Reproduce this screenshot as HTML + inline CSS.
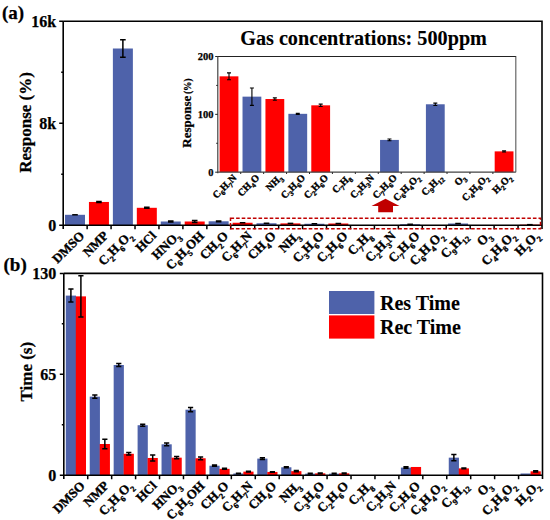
<!DOCTYPE html>
<html><head><meta charset="utf-8"><style>
html,body{margin:0;padding:0;background:#fff;}
svg{display:block;}
text{font-family:"Liberation Serif", serif;font-weight:bold;fill:#000;stroke:#000;stroke-width:0.25px;}
.lb{stroke:#000;stroke-width:0.35px;}
.big{stroke-width:0.1px;}
</style></head><body>
<svg width="550" height="520" viewBox="0 0 550 520">
<rect x="65.00" y="214.80" width="20" height="10.50" fill="#4E62AA"/>
<rect x="88.94" y="201.96" width="20" height="23.34" fill="#FF0000"/>
<rect x="112.88" y="48.50" width="20" height="176.80" fill="#4E62AA"/>
<rect x="136.82" y="207.80" width="20" height="17.50" fill="#FF0000"/>
<rect x="160.76" y="221.50" width="20" height="3.80" fill="#4E62AA"/>
<rect x="184.70" y="221.50" width="20" height="3.80" fill="#FF0000"/>
<rect x="208.64" y="221.29" width="20" height="4.01" fill="#4E62AA"/>
<rect x="232.58" y="222.75" width="20" height="2.55" fill="#FF0000"/>
<rect x="256.52" y="223.26" width="20" height="2.04" fill="#4E62AA"/>
<rect x="280.46" y="223.39" width="20" height="1.91" fill="#FF0000"/>
<rect x="304.40" y="223.77" width="20" height="1.53" fill="#4E62AA"/>
<rect x="328.34" y="223.51" width="20" height="1.79" fill="#FF0000"/>
<rect x="400.16" y="224.28" width="20" height="1.02" fill="#4E62AA"/>
<rect x="448.04" y="223.51" width="20" height="1.79" fill="#4E62AA"/>
<rect x="519.86" y="224.66" width="20" height="0.64" fill="#FF0000"/>
<path d="M72.20 214.80h5.6" stroke="#000" stroke-width="1.5" fill="none"/>
<path d="M98.94 201.45V202.47M96.14 201.45h5.6M96.14 202.47h5.6" stroke="#000" stroke-width="1.5" fill="none"/>
<path d="M122.88 39.65V57.35M120.08 39.65h5.6M120.08 57.35h5.6" stroke="#000" stroke-width="1.5" fill="none"/>
<path d="M146.82 207.29V208.31M144.02 207.29h5.6M144.02 208.31h5.6" stroke="#000" stroke-width="1.5" fill="none"/>
<path d="M170.76 220.99V222.01M167.96 220.99h5.6M167.96 222.01h5.6" stroke="#000" stroke-width="1.5" fill="none"/>
<path d="M194.70 220.61V222.39M191.90 220.61h5.6M191.90 222.39h5.6" stroke="#000" stroke-width="1.5" fill="none"/>
<path d="M218.64 220.91V221.68M215.84 220.91h5.6M215.84 221.68h5.6" stroke="#000" stroke-width="1.5" fill="none"/>
<path d="M239.78 222.75h5.6" stroke="#000" stroke-width="1.5" fill="none"/>
<path d="M263.72 223.26h5.6" stroke="#000" stroke-width="1.5" fill="none"/>
<path d="M287.66 223.39h5.6" stroke="#000" stroke-width="1.5" fill="none"/>
<path d="M311.60 223.77h5.6" stroke="#000" stroke-width="1.5" fill="none"/>
<path d="M335.54 223.51h5.6" stroke="#000" stroke-width="1.5" fill="none"/>
<path d="M407.36 224.28h5.6" stroke="#000" stroke-width="1.5" fill="none"/>
<path d="M455.24 223.51h5.6" stroke="#000" stroke-width="1.5" fill="none"/>
<path d="M527.06 224.66h5.6" stroke="#000" stroke-width="1.5" fill="none"/>
<path d="M63.2 21.2H542.0V229.10000000000002M63.2 21.2V229.10000000000002M62.45 225.3H542.0" stroke="#000" stroke-width="1.6" fill="none"/>
<path d="M87.14 225.3v4M111.08 225.3v4M135.02 225.3v4M158.96 225.3v4M182.90 225.3v4M206.84 225.3v4M230.78 225.3v4M254.72 225.3v4M278.66 225.3v4M302.60 225.3v4M326.54 225.3v4M350.48 225.3v4M374.42 225.3v4M398.36 225.3v4M422.30 225.3v4M446.24 225.3v4M470.18 225.3v4M494.12 225.3v4M518.06 225.3v4M63.2 225.30h-4M63.2 123.25h-4M63.2 21.20h-4M63.2 174.28h-2M63.2 72.22h-2" stroke="#000" stroke-width="1.5" fill="none"/>
<text x="56.2" y="230.90" font-size="16" text-anchor="end">0</text>
<text x="56.2" y="128.85" font-size="16" text-anchor="end">8k</text>
<text x="56.2" y="26.80" font-size="16" text-anchor="end">16k</text>
<text transform="translate(31.3 172.7) rotate(-90)" font-size="17">Response (%)</text>
<text x="2" y="18.7" font-size="19">(a)</text>
<text class="lb" transform="translate(85.17 236.50) rotate(-45)" font-size="13" text-anchor="end">DMSO</text>
<text class="lb" transform="translate(109.11 236.50) rotate(-45)" font-size="13" text-anchor="end">NMP</text>
<text class="lb" transform="translate(133.05 236.50) rotate(-45)" font-size="13" text-anchor="end">C<tspan font-size="8.2" dy="4">2</tspan><tspan dy="-4">H</tspan><tspan font-size="8.2" dy="4">6</tspan><tspan dy="-4">O</tspan><tspan font-size="8.2" dy="4">2</tspan></text>
<text class="lb" transform="translate(156.99 236.50) rotate(-45)" font-size="13" text-anchor="end">HCl</text>
<text class="lb" transform="translate(180.93 236.50) rotate(-45)" font-size="13" text-anchor="end">HNO<tspan font-size="8.2" dy="4">3</tspan></text>
<text class="lb" transform="translate(204.87 236.50) rotate(-45)" font-size="13" text-anchor="end">C<tspan font-size="8.2" dy="4">6</tspan><tspan dy="-4">H</tspan><tspan font-size="8.2" dy="4">5</tspan><tspan dy="-4">OH</tspan></text>
<text class="lb" transform="translate(228.81 236.50) rotate(-45)" font-size="13" text-anchor="end">CH<tspan font-size="8.2" dy="4">2</tspan><tspan dy="-4">O</tspan></text>
<text class="lb" transform="translate(252.75 236.50) rotate(-45)" font-size="13" text-anchor="end">C<tspan font-size="8.2" dy="4">6</tspan><tspan dy="-4">H</tspan><tspan font-size="8.2" dy="4">7</tspan><tspan dy="-4">N</tspan></text>
<text class="lb" transform="translate(276.69 236.50) rotate(-45)" font-size="13" text-anchor="end">CH<tspan font-size="8.2" dy="4">4</tspan><tspan dy="-4">O</tspan></text>
<text class="lb" transform="translate(300.63 236.50) rotate(-45)" font-size="13" text-anchor="end">NH<tspan font-size="8.2" dy="4">3</tspan></text>
<text class="lb" transform="translate(324.57 236.50) rotate(-45)" font-size="13" text-anchor="end">C<tspan font-size="8.2" dy="4">3</tspan><tspan dy="-4">H</tspan><tspan font-size="8.2" dy="4">6</tspan><tspan dy="-4">O</tspan></text>
<text class="lb" transform="translate(348.51 236.50) rotate(-45)" font-size="13" text-anchor="end">C<tspan font-size="8.2" dy="4">2</tspan><tspan dy="-4">H</tspan><tspan font-size="8.2" dy="4">6</tspan><tspan dy="-4">O</tspan></text>
<text class="lb" transform="translate(372.45 236.50) rotate(-45)" font-size="13" text-anchor="end">C<tspan font-size="8.2" dy="4">7</tspan><tspan dy="-4">H</tspan><tspan font-size="8.2" dy="4">8</tspan></text>
<text class="lb" transform="translate(396.39 236.50) rotate(-45)" font-size="13" text-anchor="end">C<tspan font-size="8.2" dy="4">2</tspan><tspan dy="-4">H</tspan><tspan font-size="8.2" dy="4">3</tspan><tspan dy="-4">N</tspan></text>
<text class="lb" transform="translate(420.33 236.50) rotate(-45)" font-size="13" text-anchor="end">C<tspan font-size="8.2" dy="4">7</tspan><tspan dy="-4">H</tspan><tspan font-size="8.2" dy="4">6</tspan><tspan dy="-4">O</tspan></text>
<text class="lb" transform="translate(444.27 236.50) rotate(-45)" font-size="13" text-anchor="end">C<tspan font-size="8.2" dy="4">6</tspan><tspan dy="-4">H</tspan><tspan font-size="8.2" dy="4">4</tspan><tspan dy="-4">O</tspan><tspan font-size="8.2" dy="4">2</tspan></text>
<text class="lb" transform="translate(468.21 236.50) rotate(-45)" font-size="13" text-anchor="end">C<tspan font-size="8.2" dy="4">9</tspan><tspan dy="-4">H</tspan><tspan font-size="8.2" dy="4">12</tspan></text>
<text class="lb" transform="translate(492.15 236.50) rotate(-45)" font-size="13" text-anchor="end">O<tspan font-size="8.2" dy="4">3</tspan></text>
<text class="lb" transform="translate(516.09 236.50) rotate(-45)" font-size="13" text-anchor="end">C<tspan font-size="8.2" dy="4">4</tspan><tspan dy="-4">H</tspan><tspan font-size="8.2" dy="4">8</tspan><tspan dy="-4">O</tspan><tspan font-size="8.2" dy="4">2</tspan></text>
<text class="lb" transform="translate(540.03 236.50) rotate(-45)" font-size="13" text-anchor="end">H<tspan font-size="8.2" dy="4">2</tspan><tspan dy="-4">O</tspan><tspan font-size="8.2" dy="4">2</tspan></text>
<rect x="230.5" y="218.2" width="310" height="10.6" fill="none" stroke="#C00000" stroke-width="1.5" stroke-dasharray="3.6 2"/>
<rect x="219.60" y="76.34" width="18.8" height="95.86" fill="#FF0000"/>
<rect x="242.52" y="96.65" width="18.8" height="75.55" fill="#4E62AA"/>
<rect x="265.45" y="99.02" width="18.8" height="73.18" fill="#FF0000"/>
<rect x="288.37" y="113.83" width="18.8" height="58.37" fill="#4E62AA"/>
<rect x="311.29" y="105.33" width="18.8" height="66.87" fill="#FF0000"/>
<rect x="380.06" y="139.92" width="18.8" height="32.28" fill="#4E62AA"/>
<rect x="425.91" y="104.28" width="18.8" height="67.92" fill="#4E62AA"/>
<rect x="494.68" y="151.37" width="18.8" height="20.83" fill="#FF0000"/>
<path d="M229.00 72.87V79.81M227.00 72.87h4M227.00 79.81h4" stroke="#000" stroke-width="1.1" fill="none"/>
<path d="M251.92 87.97V105.33M249.92 87.97h4M249.92 105.33h4" stroke="#000" stroke-width="1.1" fill="none"/>
<path d="M274.85 97.86V100.18M272.85 97.86h4M272.85 100.18h4" stroke="#000" stroke-width="1.1" fill="none"/>
<path d="M297.77 113.25V114.41M295.77 113.25h4M295.77 114.41h4" stroke="#000" stroke-width="1.1" fill="none"/>
<path d="M320.69 104.17V106.48M318.69 104.17h4M318.69 106.48h4" stroke="#000" stroke-width="1.1" fill="none"/>
<path d="M389.46 139.05V140.79M387.46 139.05h4M387.46 140.79h4" stroke="#000" stroke-width="1.1" fill="none"/>
<path d="M435.31 103.13V105.44M433.31 103.13h4M433.31 105.44h4" stroke="#000" stroke-width="1.1" fill="none"/>
<path d="M504.08 150.80V151.95M502.08 150.80h4M502.08 151.95h4" stroke="#000" stroke-width="1.1" fill="none"/>
<path d="M217.8 56.5H515.8V172.2" stroke="#666" stroke-width="1.2" fill="none"/>
<path d="M217.8 56.5H515.8" stroke="#222" stroke-width="1.2" fill="none"/>
<path d="M217.8 56.5V173.2M217.3 172.2H515.8" stroke="#444" stroke-width="1.2" fill="none"/>
<path d="M240.72 172.2v1.8M263.65 172.2v1.8M286.57 172.2v1.8M309.49 172.2v1.8M332.42 172.2v1.8M355.34 172.2v1.8M378.26 172.2v1.8M401.18 172.2v1.8M424.11 172.2v1.8M447.03 172.2v1.8M469.95 172.2v1.8M492.88 172.2v1.8M217.8 172.20h-2.6M217.8 114.35h-2.6M217.8 56.50h-2.6M217.8 143.27h-1.6M217.8 85.42h-1.6" stroke="#222" stroke-width="1" fill="none"/>
<text x="213.5" y="175.90" font-size="10.5" text-anchor="end">0</text>
<text x="213.5" y="118.05" font-size="10.5" text-anchor="end">100</text>
<text x="213.5" y="60.20" font-size="10.5" text-anchor="end">200</text>
<text transform="translate(191 147.7) rotate(-90)" font-size="13">Response <tspan font-size="9.5" dx="-1.6">(%)</tspan></text>
<text class="big" x="240.2" y="45" font-size="20.2">Gas concentrations: 500ppm</text>
<text class="lb" transform="translate(237.06 178.30) rotate(-45)" font-size="10" text-anchor="end">C<tspan font-size="7" dy="2.8">6</tspan><tspan dy="-2.8">H</tspan><tspan font-size="7" dy="2.8">7</tspan><tspan dy="-2.8">N</tspan></text>
<text class="lb" transform="translate(259.98 178.30) rotate(-45)" font-size="10" text-anchor="end">CH<tspan font-size="7" dy="2.8">4</tspan><tspan dy="-2.8">O</tspan></text>
<text class="lb" transform="translate(282.91 178.30) rotate(-45)" font-size="10" text-anchor="end">NH<tspan font-size="7" dy="2.8">3</tspan></text>
<text class="lb" transform="translate(305.83 178.30) rotate(-45)" font-size="10" text-anchor="end">C<tspan font-size="7" dy="2.8">3</tspan><tspan dy="-2.8">H</tspan><tspan font-size="7" dy="2.8">6</tspan><tspan dy="-2.8">O</tspan></text>
<text class="lb" transform="translate(328.75 178.30) rotate(-45)" font-size="10" text-anchor="end">C<tspan font-size="7" dy="2.8">2</tspan><tspan dy="-2.8">H</tspan><tspan font-size="7" dy="2.8">6</tspan><tspan dy="-2.8">O</tspan></text>
<text class="lb" transform="translate(351.68 178.30) rotate(-45)" font-size="10" text-anchor="end">C<tspan font-size="7" dy="2.8">7</tspan><tspan dy="-2.8">H</tspan><tspan font-size="7" dy="2.8">8</tspan></text>
<text class="lb" transform="translate(374.60 178.30) rotate(-45)" font-size="10" text-anchor="end">C<tspan font-size="7" dy="2.8">2</tspan><tspan dy="-2.8">H</tspan><tspan font-size="7" dy="2.8">3</tspan><tspan dy="-2.8">N</tspan></text>
<text class="lb" transform="translate(397.52 178.30) rotate(-45)" font-size="10" text-anchor="end">C<tspan font-size="7" dy="2.8">7</tspan><tspan dy="-2.8">H</tspan><tspan font-size="7" dy="2.8">6</tspan><tspan dy="-2.8">O</tspan></text>
<text class="lb" transform="translate(420.45 178.30) rotate(-45)" font-size="10" text-anchor="end">C<tspan font-size="7" dy="2.8">6</tspan><tspan dy="-2.8">H</tspan><tspan font-size="7" dy="2.8">4</tspan><tspan dy="-2.8">O</tspan><tspan font-size="7" dy="2.8">2</tspan></text>
<text class="lb" transform="translate(443.37 178.30) rotate(-45)" font-size="10" text-anchor="end">C<tspan font-size="7" dy="2.8">9</tspan><tspan dy="-2.8">H</tspan><tspan font-size="7" dy="2.8">12</tspan></text>
<text class="lb" transform="translate(466.29 178.30) rotate(-45)" font-size="10" text-anchor="end">O<tspan font-size="7" dy="2.8">3</tspan></text>
<text class="lb" transform="translate(489.22 178.30) rotate(-45)" font-size="10" text-anchor="end">C<tspan font-size="7" dy="2.8">4</tspan><tspan dy="-2.8">H</tspan><tspan font-size="7" dy="2.8">8</tspan><tspan dy="-2.8">O</tspan><tspan font-size="7" dy="2.8">2</tspan></text>
<text class="lb" transform="translate(512.14 178.30) rotate(-45)" font-size="10" text-anchor="end">H<tspan font-size="7" dy="2.8">2</tspan><tspan dy="-2.8">O</tspan><tspan font-size="7" dy="2.8">2</tspan></text>
<path d="M385.5 198.8L399.5 206H393V212.2H378.2V206H371.5Z" fill="#C00000"/>
<rect x="65.80" y="295.60" width="10.2" height="179.60" fill="#4E62AA"/>
<rect x="75.80" y="296.37" width="10.2" height="178.83" fill="#FF0000"/>
<rect x="89.73" y="396.65" width="10.2" height="78.55" fill="#4E62AA"/>
<rect x="99.73" y="444.00" width="10.2" height="31.20" fill="#FF0000"/>
<rect x="113.67" y="364.99" width="10.2" height="110.21" fill="#4E62AA"/>
<rect x="123.67" y="453.78" width="10.2" height="21.42" fill="#FF0000"/>
<rect x="137.60" y="425.22" width="10.2" height="49.98" fill="#4E62AA"/>
<rect x="147.60" y="457.97" width="10.2" height="17.23" fill="#FF0000"/>
<rect x="161.54" y="444.31" width="10.2" height="30.89" fill="#4E62AA"/>
<rect x="171.54" y="457.66" width="10.2" height="17.54" fill="#FF0000"/>
<rect x="185.47" y="409.69" width="10.2" height="65.51" fill="#4E62AA"/>
<rect x="195.47" y="458.28" width="10.2" height="16.92" fill="#FF0000"/>
<rect x="209.41" y="465.73" width="10.2" height="9.47" fill="#4E62AA"/>
<rect x="219.41" y="468.84" width="10.2" height="6.36" fill="#FF0000"/>
<rect x="233.34" y="473.49" width="10.2" height="1.71" fill="#4E62AA"/>
<rect x="243.34" y="471.63" width="10.2" height="3.57" fill="#FF0000"/>
<rect x="257.28" y="458.59" width="10.2" height="16.61" fill="#4E62AA"/>
<rect x="267.28" y="471.94" width="10.2" height="3.26" fill="#FF0000"/>
<rect x="281.21" y="467.28" width="10.2" height="7.92" fill="#4E62AA"/>
<rect x="291.21" y="471.16" width="10.2" height="4.04" fill="#FF0000"/>
<rect x="305.15" y="473.65" width="10.2" height="1.55" fill="#4E62AA"/>
<rect x="315.15" y="473.34" width="10.2" height="1.86" fill="#FF0000"/>
<rect x="329.08" y="473.65" width="10.2" height="1.55" fill="#4E62AA"/>
<rect x="339.08" y="473.34" width="10.2" height="1.86" fill="#FF0000"/>
<rect x="400.89" y="467.59" width="10.2" height="7.61" fill="#4E62AA"/>
<rect x="410.89" y="466.97" width="10.2" height="8.23" fill="#FF0000"/>
<rect x="448.76" y="457.66" width="10.2" height="17.54" fill="#4E62AA"/>
<rect x="458.76" y="468.37" width="10.2" height="6.83" fill="#FF0000"/>
<rect x="520.56" y="473.49" width="10.2" height="1.71" fill="#4E62AA"/>
<rect x="530.56" y="471.32" width="10.2" height="3.88" fill="#FF0000"/>
<path d="M70.90 289.08V302.12M68.30 289.08h5.2M68.30 302.12h5.2M80.90 275.73V317.02M78.30 275.73h5.2M78.30 317.02h5.2M94.83 395.10V398.21M92.23 395.10h5.2M92.23 398.21h5.2M104.84 439.34V448.66M102.24 439.34h5.2M102.24 448.66h5.2M118.77 363.43V366.54M116.17 363.43h5.2M116.17 366.54h5.2M128.77 452.54V455.02M126.17 452.54h5.2M126.17 455.02h5.2M142.70 424.13V426.30M140.10 424.13h5.2M140.10 426.30h5.2M152.70 455.02V460.92M150.10 455.02h5.2M150.10 460.92h5.2M166.64 442.91V445.71M164.04 442.91h5.2M164.04 445.71h5.2M176.64 456.57V458.75M174.04 456.57h5.2M174.04 458.75h5.2M190.57 407.52V411.87M187.97 407.52h5.2M187.97 411.87h5.2M200.57 456.88V459.68M197.97 456.88h5.2M197.97 459.68h5.2M214.51 465.11V466.35M211.91 465.11h5.2M211.91 466.35h5.2M224.51 468.37V469.30M221.91 468.37h5.2M221.91 469.30h5.2M238.44 473.18V473.80M235.84 473.18h5.2M235.84 473.80h5.2M248.44 471.32V471.94M245.84 471.32h5.2M245.84 471.94h5.2M262.38 457.66V459.52M259.78 457.66h5.2M259.78 459.52h5.2M272.38 471.63V472.25M269.78 471.63h5.2M269.78 472.25h5.2M286.31 466.82V467.75M283.71 466.82h5.2M283.71 467.75h5.2M296.31 470.54V471.78M293.71 470.54h5.2M293.71 471.78h5.2M310.25 473.34V473.96M307.65 473.34h5.2M307.65 473.96h5.2M320.25 473.03V473.65M317.65 473.03h5.2M317.65 473.65h5.2M334.19 473.34V473.96M331.58 473.34h5.2M331.58 473.96h5.2M344.19 473.03V473.65M341.58 473.03h5.2M341.58 473.65h5.2M405.99 466.82V468.37M403.39 466.82h5.2M403.39 468.37h5.2M453.86 454.55V460.76M451.26 454.55h5.2M451.26 460.76h5.2M463.86 467.90V468.84M461.26 467.90h5.2M461.26 468.84h5.2M535.66 470.70V471.94M533.06 470.70h5.2M533.06 471.94h5.2" stroke="#000" stroke-width="1.5" fill="none"/>
<path d="M63.8 273.4H542.5V479.0M63.8 273.4V479.0M63.05 475.2H542.5" stroke="#000" stroke-width="1.6" fill="none"/>
<path d="M87.73 475.2v4M111.67 475.2v4M135.60 475.2v4M159.54 475.2v4M183.47 475.2v4M207.41 475.2v4M231.34 475.2v4M255.28 475.2v4M279.21 475.2v4M303.15 475.2v4M327.08 475.2v4M351.02 475.2v4M374.95 475.2v4M398.89 475.2v4M422.82 475.2v4M446.76 475.2v4M470.69 475.2v4M494.63 475.2v4M518.56 475.2v4M63.8 475.20h-4M63.8 374.30h-4M63.8 273.40h-4M63.8 424.75h-2M63.8 323.85h-2" stroke="#000" stroke-width="1.5" fill="none"/>
<text x="56.2" y="480.80" font-size="16" text-anchor="end">0</text>
<text x="56.2" y="379.90" font-size="16" text-anchor="end">65</text>
<text x="56.2" y="279.00" font-size="16" text-anchor="end">130</text>
<text transform="translate(31.5 401.5) rotate(-90)" font-size="17">Time (s)</text>
<text x="3.5" y="271" font-size="19">(b)</text>
<text class="lb" transform="translate(85.77 486.50) rotate(-45)" font-size="13" text-anchor="end">DMSO</text>
<text class="lb" transform="translate(109.70 486.50) rotate(-45)" font-size="13" text-anchor="end">NMP</text>
<text class="lb" transform="translate(133.64 486.50) rotate(-45)" font-size="13" text-anchor="end">C<tspan font-size="8.2" dy="4">2</tspan><tspan dy="-4">H</tspan><tspan font-size="8.2" dy="4">6</tspan><tspan dy="-4">O</tspan><tspan font-size="8.2" dy="4">2</tspan></text>
<text class="lb" transform="translate(157.57 486.50) rotate(-45)" font-size="13" text-anchor="end">HCl</text>
<text class="lb" transform="translate(181.51 486.50) rotate(-45)" font-size="13" text-anchor="end">HNO<tspan font-size="8.2" dy="4">3</tspan></text>
<text class="lb" transform="translate(205.44 486.50) rotate(-45)" font-size="13" text-anchor="end">C<tspan font-size="8.2" dy="4">6</tspan><tspan dy="-4">H</tspan><tspan font-size="8.2" dy="4">5</tspan><tspan dy="-4">OH</tspan></text>
<text class="lb" transform="translate(229.38 486.50) rotate(-45)" font-size="13" text-anchor="end">CH<tspan font-size="8.2" dy="4">2</tspan><tspan dy="-4">O</tspan></text>
<text class="lb" transform="translate(253.31 486.50) rotate(-45)" font-size="13" text-anchor="end">C<tspan font-size="8.2" dy="4">6</tspan><tspan dy="-4">H</tspan><tspan font-size="8.2" dy="4">7</tspan><tspan dy="-4">N</tspan></text>
<text class="lb" transform="translate(277.25 486.50) rotate(-45)" font-size="13" text-anchor="end">CH<tspan font-size="8.2" dy="4">4</tspan><tspan dy="-4">O</tspan></text>
<text class="lb" transform="translate(301.18 486.50) rotate(-45)" font-size="13" text-anchor="end">NH<tspan font-size="8.2" dy="4">3</tspan></text>
<text class="lb" transform="translate(325.12 486.50) rotate(-45)" font-size="13" text-anchor="end">C<tspan font-size="8.2" dy="4">3</tspan><tspan dy="-4">H</tspan><tspan font-size="8.2" dy="4">6</tspan><tspan dy="-4">O</tspan></text>
<text class="lb" transform="translate(349.05 486.50) rotate(-45)" font-size="13" text-anchor="end">C<tspan font-size="8.2" dy="4">2</tspan><tspan dy="-4">H</tspan><tspan font-size="8.2" dy="4">6</tspan><tspan dy="-4">O</tspan></text>
<text class="lb" transform="translate(372.99 486.50) rotate(-45)" font-size="13" text-anchor="end">C<tspan font-size="8.2" dy="4">7</tspan><tspan dy="-4">H</tspan><tspan font-size="8.2" dy="4">8</tspan></text>
<text class="lb" transform="translate(396.92 486.50) rotate(-45)" font-size="13" text-anchor="end">C<tspan font-size="8.2" dy="4">2</tspan><tspan dy="-4">H</tspan><tspan font-size="8.2" dy="4">3</tspan><tspan dy="-4">N</tspan></text>
<text class="lb" transform="translate(420.86 486.50) rotate(-45)" font-size="13" text-anchor="end">C<tspan font-size="8.2" dy="4">7</tspan><tspan dy="-4">H</tspan><tspan font-size="8.2" dy="4">6</tspan><tspan dy="-4">O</tspan></text>
<text class="lb" transform="translate(444.79 486.50) rotate(-45)" font-size="13" text-anchor="end">C<tspan font-size="8.2" dy="4">6</tspan><tspan dy="-4">H</tspan><tspan font-size="8.2" dy="4">4</tspan><tspan dy="-4">O</tspan><tspan font-size="8.2" dy="4">2</tspan></text>
<text class="lb" transform="translate(468.73 486.50) rotate(-45)" font-size="13" text-anchor="end">C<tspan font-size="8.2" dy="4">9</tspan><tspan dy="-4">H</tspan><tspan font-size="8.2" dy="4">12</tspan></text>
<text class="lb" transform="translate(492.66 486.50) rotate(-45)" font-size="13" text-anchor="end">O<tspan font-size="8.2" dy="4">3</tspan></text>
<text class="lb" transform="translate(516.60 486.50) rotate(-45)" font-size="13" text-anchor="end">C<tspan font-size="8.2" dy="4">4</tspan><tspan dy="-4">H</tspan><tspan font-size="8.2" dy="4">8</tspan><tspan dy="-4">O</tspan><tspan font-size="8.2" dy="4">2</tspan></text>
<text class="lb" transform="translate(540.53 486.50) rotate(-45)" font-size="13" text-anchor="end">H<tspan font-size="8.2" dy="4">2</tspan><tspan dy="-4">O</tspan><tspan font-size="8.2" dy="4">2</tspan></text>
<rect x="329" y="291" width="45.4" height="23" fill="#4E62AA"/>
<rect x="329" y="315.4" width="45.4" height="23.2" fill="#FF0000"/>
<text class="big" x="380" y="309.6" font-size="20">Res Time</text>
<text class="big" x="380" y="334.2" font-size="20">Rec Time</text>
</svg>
</body></html>
